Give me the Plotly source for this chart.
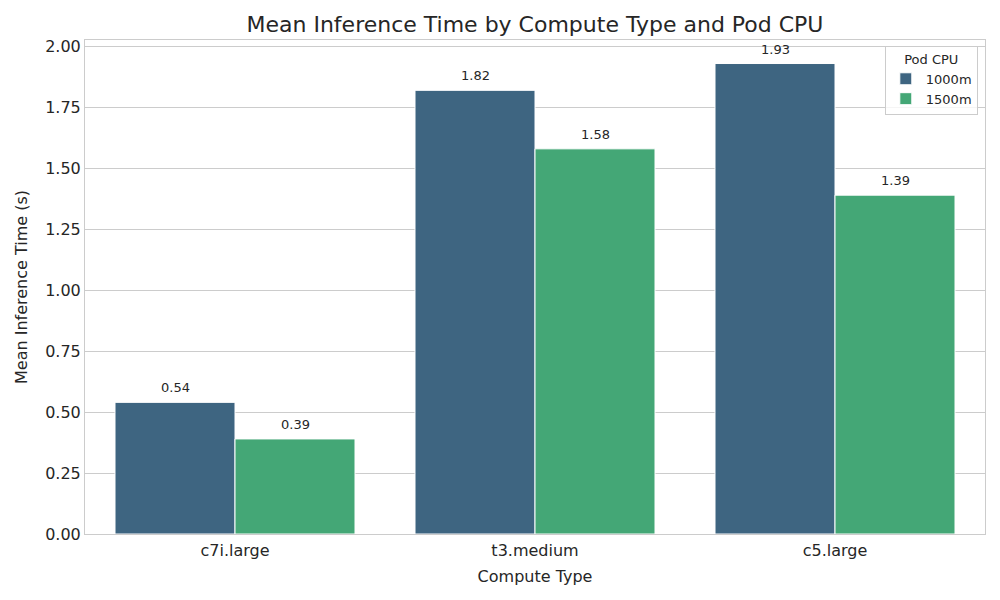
import plotly.graph_objects as go

compute_types = ["c7i.large", "t3.medium", "c5.large"]
pod_cpus = ["1000m", "1500m"]
values_1000m = [0.54, 1.82, 1.93]
values_1500m = [0.39, 1.58, 1.39]
colors = {"1000m": "#3e6581", "1500m": "#44a776"}

series = {"1000m": values_1000m, "1500m": values_1500m}
font_family = "DejaVu Sans"

fig = go.Figure()
for name in pod_cpus:
    fig.add_trace(go.Bar(
        x=compute_types, y=series[name], name=name,
        marker=dict(color=colors[name], line=dict(color="white", width=1)),
        offsetgroup=name,
    ))

offsets = {"1000m": -0.2, "1500m": 0.2}
for name in pod_cpus:
    for i, v in enumerate(series[name]):
        fig.add_annotation(
            x=i + offsets[name], y=v, text=f"{v:.2f}", showarrow=False,
            yanchor="bottom", yshift=5, xref="x", yref="y",
            font=dict(size=13, color="#262626", family=font_family),
        )

# page body has an 8px default margin; compensate so the plot area lands at 85..985 x 40..534
fig.update_layout(
    width=1000, height=600,
    margin=dict(l=77, r=23, t=32, b=74, autoexpand=False),
    paper_bgcolor="white", plot_bgcolor="white",
    bargap=0.2, bargroupgap=0,
    title=dict(text="Mean Inference Time by Compute Type and Pod CPU",
               xref="paper", x=0.5, xanchor="center",
               yref="container", y=0.973, yanchor="middle",
               font=dict(size=22, color="#262626", family=font_family)),
    font=dict(family=font_family, color="#262626"),
    legend=dict(
        title=dict(text="Pod CPU", side="top center", font=dict(size=13)),
        x=0.992, xanchor="right", y=0.988, yanchor="top",
        bordercolor="#cccccc", borderwidth=1, bgcolor="rgba(255,255,255,0.8)",
        font=dict(size=13),
    ),
    showlegend=True,
)
fig.update_xaxes(
    type="category", range=[-0.5, 2.5], automargin=False,
    title=dict(text="Compute Type", font=dict(size=16), standoff=11),
    tickfont=dict(size=16), ticklabelstandoff=2,
    showline=True, mirror=True, linecolor="#cccccc",
    linewidth=1, showgrid=False, ticks="",
)
fig.update_yaxes(
    range=[0, 2.0265], tickvals=[0, 0.25, 0.5, 0.75, 1.0, 1.25, 1.5, 1.75, 2.0],
    automargin=False,
    tickformat=".2f", title=dict(text="Mean Inference Time (s)", font=dict(size=16), standoff=13),
    tickfont=dict(size=16), showline=True, mirror=True, linecolor="#cccccc",
    linewidth=1, showgrid=True, gridcolor="#cccccc", gridwidth=1, zeroline=False, ticks="",
)

fig.write_html("out.html")
